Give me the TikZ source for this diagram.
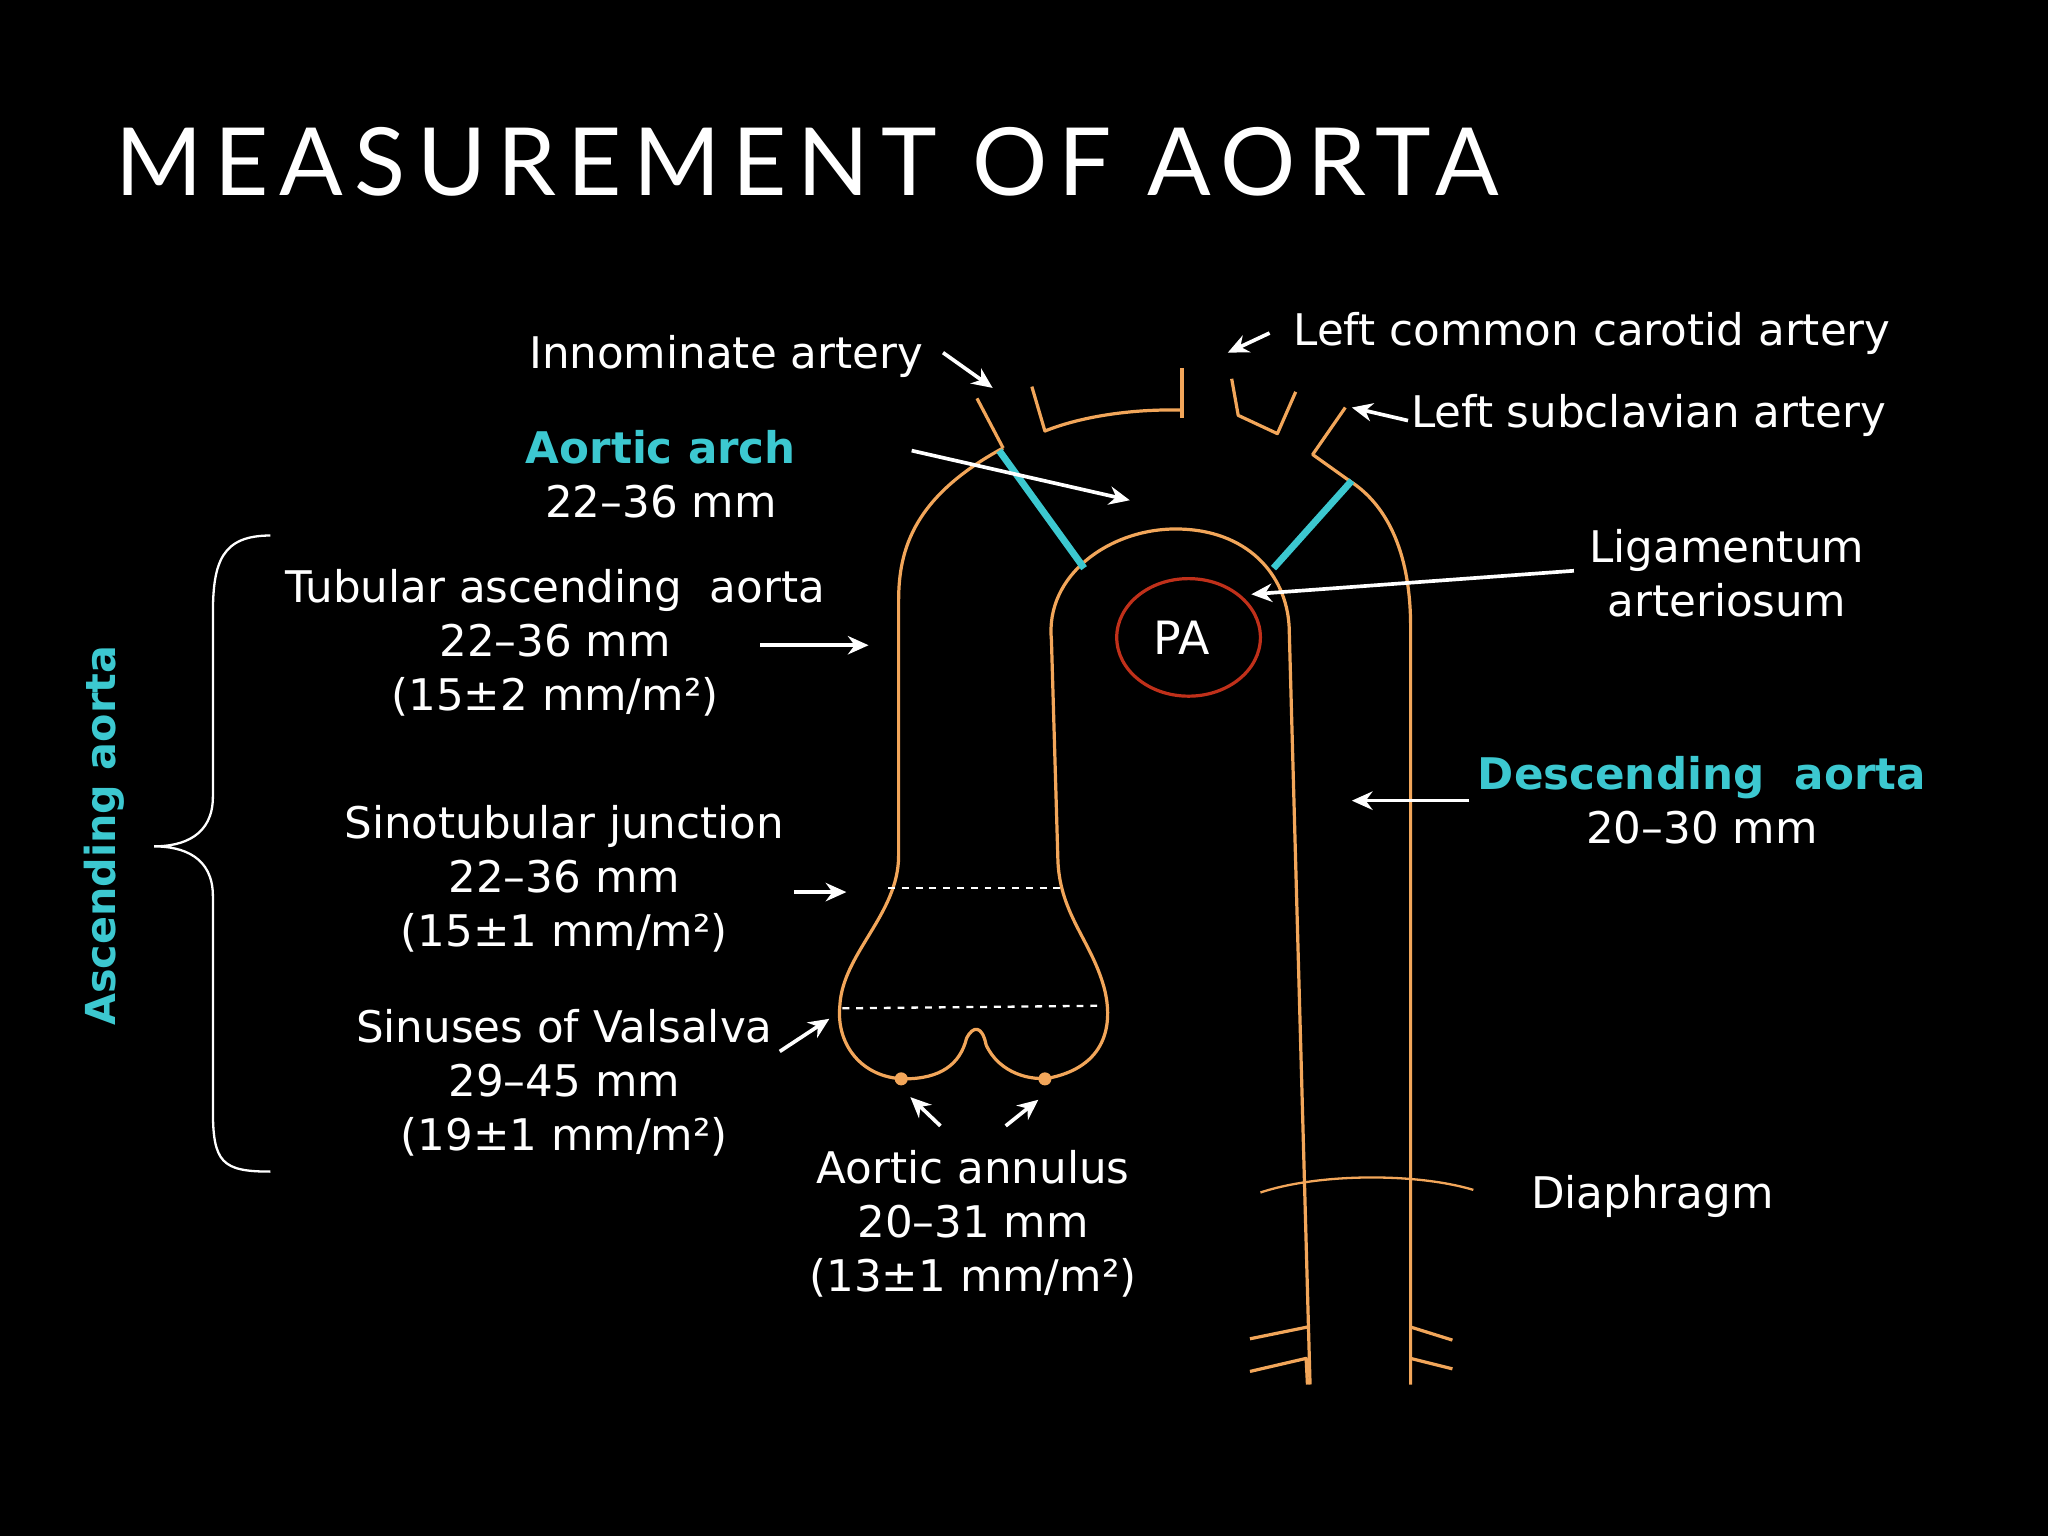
\documentclass[tikz,border=0pt]{standalone}
\usepackage{fontspec}
\setmainfont{DejaVu Sans}
\newfontfamily\titlefont[LetterSpace=12]{Lato}
\usetikzlibrary{arrows.meta,decorations.pathreplacing}
\definecolor{ao}{HTML}{F2A65A}
\definecolor{cy}{HTML}{3CC8D0}
\definecolor{pa}{HTML}{C0301A}
\begin{document}
\begin{tikzpicture}[x=0.02cm,y=-0.02cm,
  lab/.style={text=white,font=\fontsize{19}{23.5}\selectfont,align=center,inner sep=0},
  wall/.style={draw=ao,line width=1.4pt,line join=round},
  arr/.style={draw=white,line width=1.6pt,-{Stealth[length=9pt,width=8pt]}}]
\fill[black] (0,0) rectangle (1568,1176);
\useasboundingbox (0,0) rectangle (1568,1176);
\node[anchor=base west,text=white,font=\titlefont\fontsize{41}{48}\selectfont,inner sep=0] (title) at (88,150) {MEASUREMENT OF AORTA};
% aorta outline
\draw[wall] (768,343) .. controls (700,380) and (688,420) .. (688,460) -- (688,655)
  .. controls (688,700) and (645,730) .. (643,770) .. controls (640,800) and (660,825) .. (692,826)
  .. controls (720,826) and (735,815) .. (740,795) .. controls (745,785) and (752,785) .. (755,800)
  .. controls (765,822) and (790,828) .. (805,825) .. controls (850,815) and (852,780) .. (845,755)
  .. controls (835,720) and (812,700) .. (810,660) -- (805,490)
  .. controls (800,440) and (850,405) .. (900,405) .. controls (955,405) and (985,440) .. (987,480)
  -- (1003,1060);
\draw[wall] (1080,1060) -- (1080,480) .. controls (1080,420) and (1060,385) .. (1033,368) -- (1005,348) -- (1030,312);
\draw[wall] (768,343) -- (748,305);
\draw[wall] (790,296) -- (800,330) .. controls (830,318) and (870,313) .. (905,314);
\draw[wall] (905,282) -- (905,320);
\draw[wall] (943,290) -- (948,318) -- (978,332) -- (992,300);
% bottom branches
\draw[wall] (957,1025) -- (1001,1016);
\draw[wall] (957,1050) -- (1000,1040) -- (1001,1060);
\draw[wall] (1080,1016) -- (1112,1026);
\draw[wall] (1080,1040) -- (1112,1048);
% diaphragm
\draw[ao,line width=1pt] (965,913) .. controls (1010,898) and (1085,898) .. (1128,911);
% cyan
\draw[cy,line width=3pt] (765,345) -- (830,435);
\draw[cy,line width=3pt] (975,435) -- (1035,368);
% PA
\draw[pa,line width=1.4pt] (910,488) ellipse [x radius=55,y radius=45];
\node[lab,font=\fontsize{20}{24}\selectfont] (pa) at (905,488) {PA};
% dashed
\draw[white,dashed,line width=1pt] (680,680) -- (815,680);
\draw[white,dashed,line width=1pt] (645,772) -- (845,770);
\fill[ao] (690,826) circle (5) (800,826) circle (5);
% labels
\node[lab,anchor=east] (inn) at (707,273) {Innominate artery};
\node[lab,anchor=west] (lcc) at (990,255) {Left common carotid artery};
\node[lab,anchor=west] (lsa) at (1080,318) {Left subclavian artery};
\node[lab] (arch) at (506,363) {\textcolor{cy}{\textbf{Aortic arch}}\\22–36 mm};
\node[lab] (lig) at (1322,439) {Ligamentum\\arteriosum};
\node[lab] (tub) at (425,492) {Tubular ascending\ \ aorta\\22–36 mm\\(15±2 mm/m²)};
\node[lab] (desc) at (1303,613) {\textcolor{cy}{\textbf{Descending\ \ aorta}}\\20–30 mm};
\node[lab] (sino) at (432,673) {Sinotubular junction\\22–36 mm\\(15±1 mm/m²)};
\node[lab] (sin) at (432,829) {Sinuses of Valsalva\\29–45 mm\\(19±1 mm/m²)};
\node[lab] (ann) at (745,937) {Aortic annulus\\20–31 mm\\(13±1 mm/m²)};
\node[lab] (dia) at (1265,916) {Diaphragm};
\node[lab,rotate=90,text=cy,font=\bfseries\fontsize{18}{21}\selectfont] (asc) at (80,640) {Ascending aorta};
% brace
\draw[white,line width=1pt] (207,410) .. controls (170,410) and (163,430) .. (163,470) -- (163,610)
  .. controls (163,640) and (140,648) .. (118,648) .. controls (140,648) and (163,656) .. (163,686)
  -- (163,850) .. controls (163,890) and (170,897) .. (207,897);
% arrows
\draw[arr] (722,270) -- (760,297);
\draw[arr] (972,255) -- (940,270);
\draw[arr] (1078,322) -- (1035,312);
\draw[arr] (698,345) -- (865,383);
\draw[arr] (1205,437) -- (958,455);
\draw[arr] (582,494) -- (665,494);
\draw[arr] (1125,613) -- (1035,613);
\draw[arr] (608,683) -- (648,683);
\draw[arr] (597,805) -- (635,780);
\draw[arr] (720,862) -- (697,840);
\draw[arr] (770,862) -- (795,842);
\end{tikzpicture}
\end{document}
